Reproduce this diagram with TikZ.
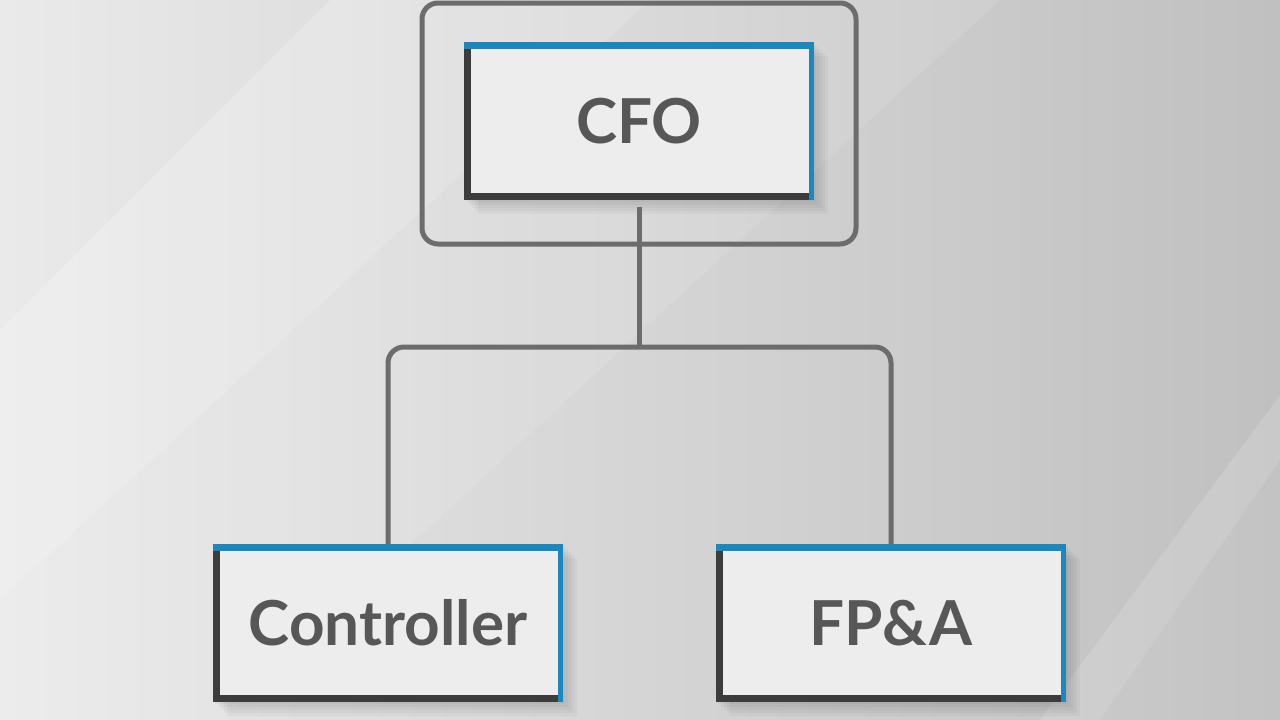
\documentclass[tikz,border=0pt]{standalone}
\usepackage{fontspec}
\setmainfont{Lato}
\usetikzlibrary{calc}
\pgfdeclarelayer{backdrop}
\pgfdeclarelayer{shadow}
\pgfsetlayers{backdrop,shadow,main}
\definecolor{bgL}{HTML}{EAEAEA}
\definecolor{bgR}{HTML}{C0C0C0}
\definecolor{boxfill}{HTML}{EDEDED}
\definecolor{blueedge}{HTML}{1A88BE}
\definecolor{darkedge}{HTML}{3C3C3C}
\definecolor{linegray}{HTML}{6C6C6C}
\definecolor{txtgray}{HTML}{575757}
\tikzset{
  orgbox/.style={rectangle, fill=boxfill, minimum width=350, minimum height=158, inner sep=0,
    text=txtgray, font=\bfseries\fontsize{62}{70}\selectfont},
  conn/.style={draw=linegray, line width=5},
  framebox/.style={rectangle, draw=linegray, line width=5, rounded corners=16, minimum width=434, minimum height=241, inner sep=0},
  softshade/.style={fill=black, opacity=0.03},
}
\newcommand{\boxedges}[1]{%
  \begin{pgfonlayer}{shadow}
  \foreach \d in {2,5,8,11,14}{
    \fill[softshade] ($(#1.north west)+(\d,\d)$) rectangle ($(#1.south east)+(\d,\d)$);
  }
  \end{pgfonlayer}
  \draw[blueedge, line width=7] ($(#1.north west)+(0,3.5)$) -- ($(#1.north east)+(0,3.5)$);
  \draw[blueedge, line width=5] ($(#1.north east)+(-2.5,0)$) -- ($(#1.south east)+(-2.5,0)$);
  \draw[darkedge, line width=7] ($(#1.north west)+(3.5,7)$) -- ($(#1.south west)+(3.5,0)$);
  \draw[darkedge, line width=7] ($(#1.south west)+(0,-3.5)$) -- ($(#1.south east)+(-5,-3.5)$);
}
\begin{document}
\begin{tikzpicture}[x=1pt,y=-1pt]
\useasboundingbox (0,0) rectangle (1280,720);
% background
\begin{pgfonlayer}{backdrop}
\shade[left color=bgL, right color=bgR] (0,0) rectangle (1280,720);
\fill[white, opacity=0.22] (0,330) -- (330,0) -- (650,0) -- (0,600) -- cycle;
\fill[white, opacity=0.10] (0,600) -- (650,0) -- (1000,0) -- (220,720) -- (0,720) -- cycle;
\fill[white, opacity=0.15] (1040,720) -- (1280,395) -- (1280,460) -- (1100,720) -- cycle;
\fill[white, opacity=0.06] (1100,720) -- (1280,460) -- (1280,720) -- cycle;
\end{pgfonlayer}
% frame
\node[framebox] (frame) at (639,123.5) {};
% boxes
\node[orgbox] (cfo) at (639,121) {CFO};
\node[orgbox] (ctrl) at (388,623) {Controller};
\node[orgbox] (fpa) at (891,623) {FP\&A};
\boxedges{cfo}
\boxedges{ctrl}
\boxedges{fpa}
% connectors
\draw[conn] ($(cfo.south)+(0,7)$) -- (cfo.south |- 0,347);
\draw[conn, rounded corners=16] (ctrl.north) -- (ctrl.north |- 0,347) -- (fpa.north |- 0,347) -- (fpa.north);
\end{tikzpicture}
\end{document}
